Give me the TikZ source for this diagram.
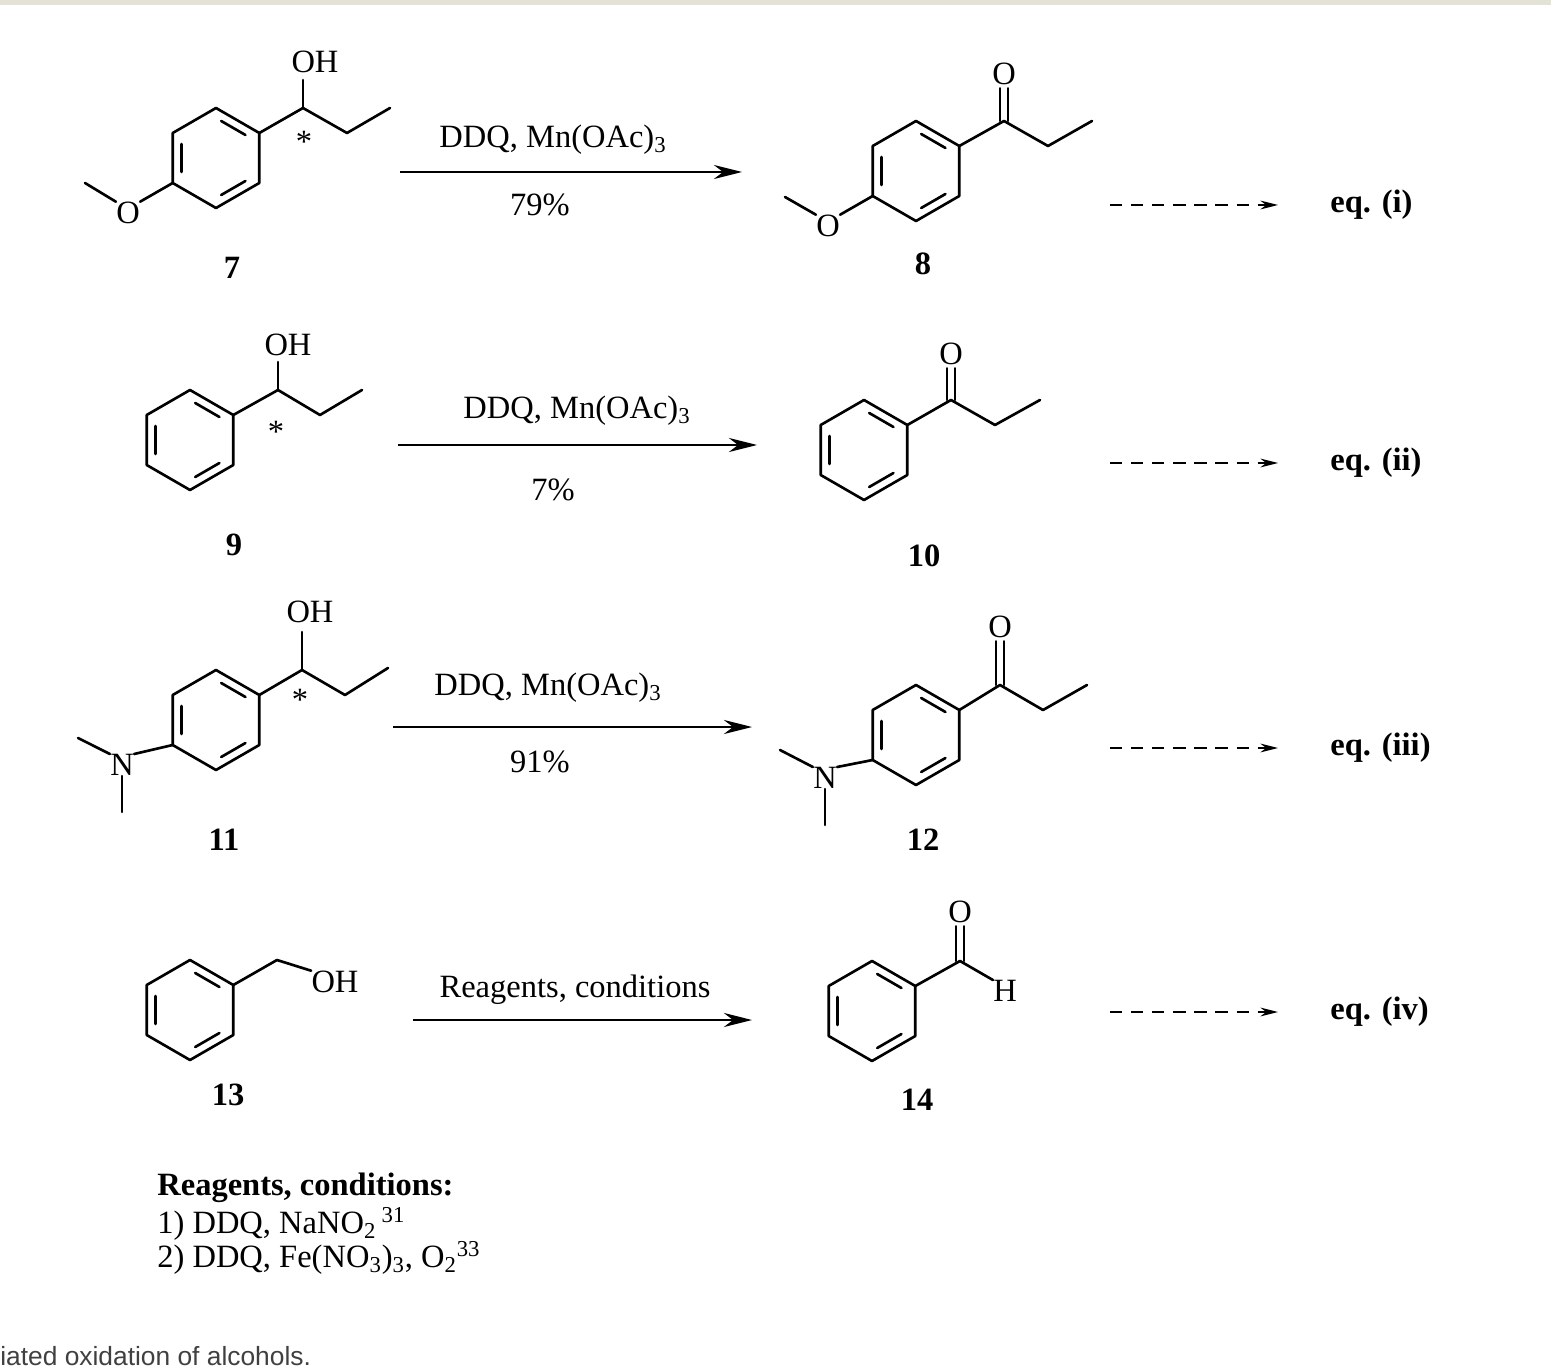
\documentclass[tikz,border=0pt]{standalone}
\usepackage{fontspec}
\setmainfont{Liberation Serif}
\newfontfamily\capfont{Liberation Sans}
\usetikzlibrary{calc,arrows.meta}
\newcommand\benz[3]{%
  \coordinate (#1-T) at (#2,#3-50); \coordinate (#1-UR) at (#2+43.3,#3-25);
  \coordinate (#1-LR) at (#2+43.3,#3+25); \coordinate (#1-B) at (#2,#3+50);
  \coordinate (#1-LL) at (#2-43.3,#3+25); \coordinate (#1-UL) at (#2-43.3,#3-25);
  \coordinate (#1-c) at (#2,#3);
  \draw[bond] (#1-T)--(#1-UR)--(#1-LR)--(#1-B)--(#1-LL)--(#1-UL)--cycle;
  \draw[bond] ($(#1-c)!0.8!(#1-T)!0.15!($(#1-c)!0.8!(#1-UR)$)$)--($(#1-c)!0.8!(#1-UR)!0.15!($(#1-c)!0.8!(#1-T)$)$);
  \draw[bond] ($(#1-c)!0.8!(#1-LR)!0.15!($(#1-c)!0.8!(#1-B)$)$)--($(#1-c)!0.8!(#1-B)!0.15!($(#1-c)!0.8!(#1-LR)$)$);
  \draw[bond] ($(#1-c)!0.8!(#1-LL)!0.15!($(#1-c)!0.8!(#1-UL)$)$)--($(#1-c)!0.8!(#1-UL)!0.15!($(#1-c)!0.8!(#1-LL)$)$);
}
\newcommand\sbs[1]{\textsubscript{#1}}
\newcommand\sps[1]{\textsuperscript{#1}}
\begin{document}
\begin{tikzpicture}[x=0.02cm,y=-0.02cm,
  bond/.style={line width=1.5pt,line cap=round,line join=round},
  txt/.style={font=\fontsize{18.5}{22}\selectfont,inner sep=0pt},
  lbl/.style={font=\fontsize{18.5}{22}\selectfont\bfseries,inner sep=0pt},
  rxn/.style={line width=1.3pt,-{Stealth[length=16pt,width=8pt]}},
  dasharr/.style={line width=1pt,dash pattern=on 7pt off 5pt,-{Stealth[length=10pt,width=5pt]}}]
\useasboundingbox (0,0) rectangle (1551,1371);
\fill[black!12!yellow!8!white!88!black] (0,0) rectangle (1551,5);
% ---- 7
\benz{a}{216}{158}
\coordinate (a1) at (303,108); \coordinate (a2) at (347,133); \coordinate (a3) at (390,108);
\node[txt] (aOH) at (315,62) {OH};
\node[txt] (aO) at (128,213) {O};
\coordinate (aMe) at (85,183);
\draw[bond] (a-UR)--(a1)--(a2)--(a3); \draw[bond] (a1)--(303,80);
\draw[bond] (a-LL)--(aO.north east); \draw[bond] (aO.north west)--(aMe);
\node[txt] (aast) at (304,142) {*};
\node[lbl] (n7) at (232,268) {7};
% ---- 8
\benz{b}{916}{171}
\coordinate (b1) at (1004,121); \coordinate (b2) at (1048,146); \coordinate (b3) at (1092,121);
\node[txt] (bO) at (1004,74) {O};
\draw[bond] (b-UR)--(b1)--(b2)--(b3);
\draw[bond] ($(b1)+(-4,0)$)--($(bO.south)+(-4,3)$); \draw[bond] ($(b1)+(4,0)$)--($(bO.south)+(4,3)$);
\node[txt] (bOm) at (828,226) {O}; \coordinate (bMe) at (785,197);
\draw[bond] (b-LL)--(bOm.north east); \draw[bond] (bOm.north west)--(bMe);
\node[lbl] (n8) at (923,264) {8};
% ---- 9
\benz{c}{190}{440}
\coordinate (c1) at (278,390); \coordinate (c2) at (320,415); \coordinate (c3) at (362,390);
\node[txt] (cOH) at (288,345) {OH};
\draw[bond] (c-UR)--(c1)--(c2)--(c3); \draw[bond] (c1)--(278,362);
\node[txt] (cast) at (276,432) {*};
\node[lbl] (n9) at (234,545) {9};
% ---- 10
\benz{d}{864}{450}
\coordinate (d1) at (951,400); \coordinate (d2) at (995,425); \coordinate (d3) at (1040,400);
\node[txt] (dO) at (951,354) {O};
\draw[bond] (d-UR)--(d1)--(d2)--(d3);
\draw[bond] ($(d1)+(-4,0)$)--($(dO.south)+(-4,3)$); \draw[bond] ($(d1)+(4,0)$)--($(dO.south)+(4,3)$);
\node[lbl] (n10) at (924,556) {10};
% ---- 11
\benz{e}{216}{720}
\coordinate (e1) at (302,670); \coordinate (e2) at (345,695); \coordinate (e3) at (388,668);
\node[txt] (eOH) at (310,612) {OH};
\draw[bond] (e-UR)--(e1)--(e2)--(e3); \draw[bond] (e1)--(302,632);
\node[txt] (east) at (300,700) {*};
\node[txt] (eN) at (122,765) {N};
\draw[bond] (e-LL)--(eN.north east); \draw[bond] (eN.north west)--(78,738); \draw[bond] (eN.south)--(122,812);
\node[lbl] (n11) at (224,840) {11};
% ---- 12
\benz{f}{916}{735}
\coordinate (f1) at (1000,685); \coordinate (f2) at (1043,710); \coordinate (f3) at (1087,685);
\node[txt] (fO) at (1000,627) {O};
\draw[bond] (f-UR)--(f1)--(f2)--(f3);
\draw[bond] ($(f1)+(-4,0)$)--($(fO.south)+(-4,3)$); \draw[bond] ($(f1)+(4,0)$)--($(fO.south)+(4,3)$);
\node[txt] (fN) at (825,778) {N};
\draw[bond] (f-LL)--(fN.north east); \draw[bond] (fN.north west)--(780,750); \draw[bond] (fN.south)--(825,825);
\node[lbl] (n12) at (923,840) {12};
% ---- 13
\benz{g}{190}{1010}
\coordinate (g1) at (277,960);
\node[txt] (gOH) at (335,982) {OH};
\draw[bond] (g-UR)--(g1)--(gOH.north west);
\node[lbl] (n13) at (228,1095) {13};
% ---- 14
\benz{h}{872}{1011}
\coordinate (h1) at (960,961);
\node[txt] (hO) at (960,912) {O};
\node[txt] (hH) at (1005,991) {H};
\draw[bond] (h-UR)--(h1)--(hH.north west);
\draw[bond] ($(h1)+(-4,0)$)--($(hO.south)+(-4,3)$); \draw[bond] ($(h1)+(4,0)$)--($(hO.south)+(4,3)$);
\node[lbl] (n14) at (917,1100) {14};
% ---- reaction arrows
\coordinate (r1s) at (400,172); \coordinate (r1e) at (742,172);
\draw[rxn] (r1s)--(r1e);
\node[txt] (r1t) at (553,140) {DDQ, Mn(OAc)\sbs{3}};
\node[txt] (r1b) at (540,205) {79\%};
\coordinate (r2s) at (398,445); \coordinate (r2e) at (757,445);
\draw[rxn] (r2s)--(r2e);
\node[txt] (r2t) at (577,411) {DDQ, Mn(OAc)\sbs{3}};
\node[txt] (r2b) at (553,490) {7\%};
\coordinate (r3s) at (393,727); \coordinate (r3e) at (752,727);
\draw[rxn] (r3s)--(r3e);
\node[txt] (r3t) at (548,688) {DDQ, Mn(OAc)\sbs{3}};
\node[txt] (r3b) at (540,762) {91\%};
\coordinate (r4s) at (413,1020); \coordinate (r4e) at (752,1020);
\draw[rxn] (r4s)--(r4e);
\node[txt] (r4t) at (575,990) {Reagents, conditions};
% ---- dashed arrows
\foreach \y/\t/\n in {205/(i)/i,463/(ii)/ii,748/(iii)/iii,1012/(iv)/iv}{
  \coordinate (ds\n) at (1110,\y); \coordinate (de\n) at (1278,\y);
  \draw[dasharr] (ds\n)--(de\n);
  \node[lbl,anchor=west] (eq\n) at (1330,\y) {eq. \t};
}
% ---- conditions
\node[lbl,anchor=west] (c0) at (157,1188) {Reagents, conditions:};
\node[txt,anchor=west] (c1l) at (157,1224) {1) DDQ, NaNO\sbs{2}\,\sps{31}};
\node[txt,anchor=west] (c2l) at (157,1258) {2) DDQ, Fe(NO\sbs{3})\sbs{3}, O\sbs{2}\sps{33}};
\node[anchor=west,inner sep=0pt,font=\capfont\fontsize{15}{18}\selectfont,text=black!75] (cap) at (0,1356) {iated oxidation of alcohols.};
\end{tikzpicture}
\end{document}
